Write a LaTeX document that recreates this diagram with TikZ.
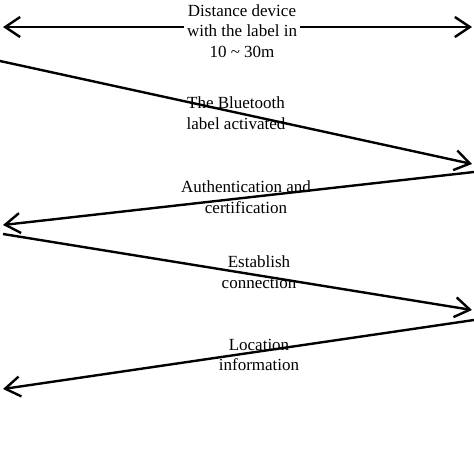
\documentclass[tikz,border=0pt]{standalone}
\usepackage{fontspec}
\setmainfont{Liberation Serif}
\usetikzlibrary{arrows.meta}
\tikzset{
  msg/.style={line width=2.4pt, -{Straight Barb[length=15pt,width=20pt,line width=2.4pt]}},
  both/.style={line width=2.4pt, {Straight Barb[length=15pt,width=20pt,line width=2.4pt]}-{Straight Barb[length=15pt,width=20pt,line width=2.4pt]}},
  lbl/.style={align=center, font=\fontsize{17}{20.5}\selectfont, inner sep=1pt},
}
\begin{document}
\begin{tikzpicture}[x=1pt,y=-1pt]
\useasboundingbox (0,0) rectangle (474,474);
\coordinate (L0) at (3,27);
\coordinate (R0) at (472,27);
\coordinate (A1) at (0,61);
\coordinate (B1) at (472,164);
\coordinate (A2) at (474,172);
\coordinate (B2) at (3,225);
\coordinate (A3) at (3,234);
\coordinate (B3) at (472,310);
\coordinate (A4) at (474,320);
\coordinate (B4) at (3,389);
\draw[both] (L0) -- (R0);
\node[lbl, fill=white, inner xsep=3pt] (t0) at (242,31) {Distance device\\with the label in\\10 \textasciitilde{} 30m};
\draw[msg] (A1) -- (B1);
\draw[msg] (A2) -- (B2);
\draw[msg] (A3) -- (B3);
\draw[msg] (A4) -- (B4);
\node[lbl] (t1) at (236,113) {The Bluetooth\\label activated};
\node[lbl] (t2) at (246,197) {Authentication and\\certification};
\node[lbl] (t3) at (259,272) {Establish\\connection};
\node[lbl] (t4) at (259,355) {Location\\information};
\end{tikzpicture}
\end{document}
